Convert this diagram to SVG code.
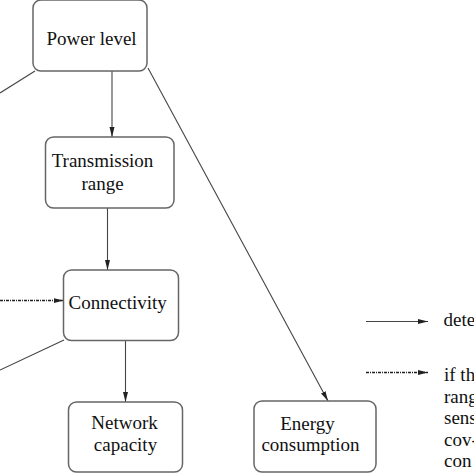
<svg xmlns="http://www.w3.org/2000/svg" width="474" height="474" viewBox="0 0 474 474">
<defs>
<marker id="ah" markerUnits="userSpaceOnUse" markerWidth="11" markerHeight="6" refX="10" refY="2.5" orient="auto">
<path d="M0,0 L10,2.5 L0,5 Z" fill="#222"/>
</marker>
<style>
.box{fill:#fff;stroke:#666;stroke-width:1.5}
.t{font-family:"Liberation Serif","Times New Roman",serif;font-size:19px;fill:#111;text-anchor:middle}
.lt{font-family:"Liberation Serif","Times New Roman",serif;font-size:19px;fill:#111}
.e{fill:none;stroke:#444;stroke-width:1.1}
.a{marker-end:url(#ah)}
.dd{stroke:#222;stroke-width:1.5;stroke-dasharray:3 1 1 1}
</style>
</defs>
<rect width="474" height="474" fill="#fff"/>
<g id="connectors">
<line class="e a" x1="112" y1="71" x2="112" y2="137"/>
<line class="e a" x1="107.5" y1="208" x2="107.5" y2="270"/>
<line class="e a" x1="125.5" y1="340.5" x2="125.5" y2="402"/>
<line class="e a" x1="148" y1="68" x2="328" y2="401"/>
<line class="e a dd" x1="0" y1="300.5" x2="63.5" y2="300.5"/>
<line class="e" x1="35" y1="71" x2="0" y2="93"/>
<line class="e" x1="64" y1="340" x2="0" y2="370"/>
</g>
<g id="power">
<rect class="box" x="33" y="0" width="114" height="71" rx="8"/>
<text class="t" x="91.5" y="45">Power level</text>
</g>
<g id="transmission">
<rect class="box" x="45.5" y="137" width="128.5" height="71" rx="8"/>
<text class="t" x="102.5" y="167">Transmission</text>
<text class="t" x="102.5" y="189.5">range</text>
</g>
<g id="connectivity">
<rect class="box" x="63.5" y="270" width="115" height="70.5" rx="8"/>
<text class="t" x="117.7" y="309">Connectivity</text>
</g>
<g id="network">
<rect class="box" x="68.5" y="402" width="114" height="70" rx="8"/>
<text class="t" x="124.5" y="429">Network</text>
<text class="t" x="125.5" y="451">capacity</text>
</g>
<g id="energy">
<rect class="box" x="254" y="401" width="122" height="71" rx="8"/>
<text class="t" x="307.5" y="430">Energy</text>
<text class="t" x="310.5" y="451">consumption</text>
</g>
<g id="legend">
<line class="e a" x1="366" y1="321.5" x2="428" y2="321.5"/>
<line class="e a dd" x1="366" y1="372.5" x2="428" y2="372.5"/>
<text class="lt" x="443.5" y="326">dete</text>
<text class="lt" x="444" y="381">if th</text>
<text class="lt" x="444" y="402.5">rang</text>
<text class="lt" x="444" y="424">sens</text>
<text class="lt" x="444" y="445.5">cov-</text>
<text class="lt" x="444" y="467">con</text>
</g>
</svg>
